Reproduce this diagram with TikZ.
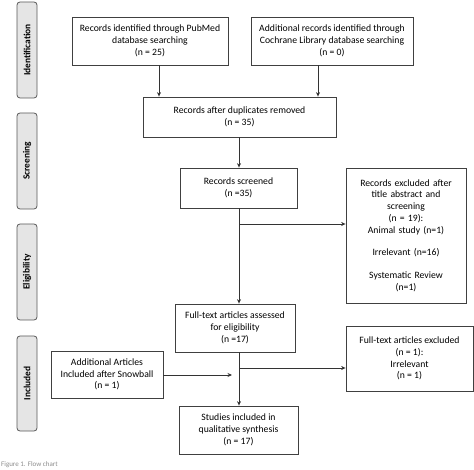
\documentclass[tikz,border=0pt]{standalone}
\usepackage{fontspec}
\setmainfont{Carlito}
\usepackage{xcolor}
\usetikzlibrary{positioning,calc,arrows.meta}

\begin{document}
\begin{tikzpicture}[x=1pt,y=-1pt,
		flowbox/.style={draw=black!75, line width=0.8pt, align=center, inner sep=1pt,
			font=\fontsize{9.7}{11.7}\selectfont},
		stagebox/.style={draw=black!65, fill=black!10, rounded corners=3pt, line width=0.8pt,
			minimum height=20pt, inner sep=0pt, rotate=90, font=\bfseries\fontsize{9.4}{10}\selectfont},
		arr/.style={draw=black!80, line width=0.7pt, -{Stealth[length=4.5pt,width=4pt]}}]
	\useasboundingbox (0,0) rectangle (474,470);
	% stages
	\node[stagebox, minimum width=96pt] (ident) at (27,50) {Identification};
	\node[stagebox, minimum width=96pt] (screen) at (27,161) {Screening};
	\node[stagebox, minimum width=96pt] (elig) at (27,272) {Eligibility};
	\node[stagebox, minimum width=95pt] (incl) at (27,383.5) {Included};
	% boxes
	\node[flowbox, minimum width=156pt, minimum height=48pt] (pubmed) at (150,41) {Records identified through PubMed\\database searching\\(n = 25)};
	\node[flowbox, minimum width=162pt, minimum height=48pt] (cochrane) at (332,41) {Additional records identified through\\Cochrane Library database searching\\(n = 0)};
	\node[flowbox, minimum width=193pt, minimum height=40pt] (dup) at (239.5,117) {Records after duplicates removed\\(n = 35)};
	\node[flowbox, minimum width=117pt, minimum height=40pt] (screened) at (238.5,188) {Records screened\\(n =35)};
	\node[flowbox, minimum width=120pt, minimum height=135pt, text width=112pt] (excl1) at (406,235.5) {Records excluded after\\title abstract and\\screening\\(n = 19):\\Animal study (n=1)\\[11pt]Irrelevant (n=16)\\[11pt]Systematic Review\\(n=1)};
	\node[flowbox, minimum width=120pt, minimum height=48pt] (fulltext) at (235,328) {Full-text articles assessed\\for eligibility\\(n =17)};
	\node[flowbox, minimum width=127pt, minimum height=65pt] (excl2) at (409.5,358.5) {Full-text articles excluded\\(n = 1):\\Irrelevant\\(n = 1)};
	\node[flowbox, minimum width=112pt, minimum height=47pt] (snow) at (107,374.5) {Additional Articles\\Included after Snowball\\(n = 1)};
	\node[flowbox, minimum width=119pt, minimum height=48pt] (studies) at (238.5,430) {Studies included in\\qualitative synthesis\\(n = 17)};
	% connectors
	\coordinate (b1) at (239,224);
	\coordinate (b2) at (239,368);
	\coordinate (m2) at (232,375);
	\draw[arr] ([xshift=9pt]pubmed.south) -- ([xshift=9pt]pubmed.south |- dup.north);
	\draw[arr] ([xshift=-14pt]cochrane.south) -- ([xshift=-14pt]cochrane.south |- dup.north);
	\draw[arr] (dup.south -| b1) -- (screened.north -| b1);
	\draw[arr] (screened.south -| b1) -- (fulltext.north -| b1);
	\draw[arr] (b1) -- (b1 -| excl1.west);
	\draw[arr] (fulltext.south -| b2) -- (studies.north -| b2);
	\draw[arr] (b2) -- (b2 -| excl2.west);
	\draw[arr] (snow.east |- m2) -- (m2);
	% caption
	\node[anchor=base west, inner sep=0pt, text=black!45, font=\rmfamily\fontsize{7}{8}\selectfont] (cap) at (1,466.5) {Figure 1. Flow chart};
\end{tikzpicture}
\end{document}
